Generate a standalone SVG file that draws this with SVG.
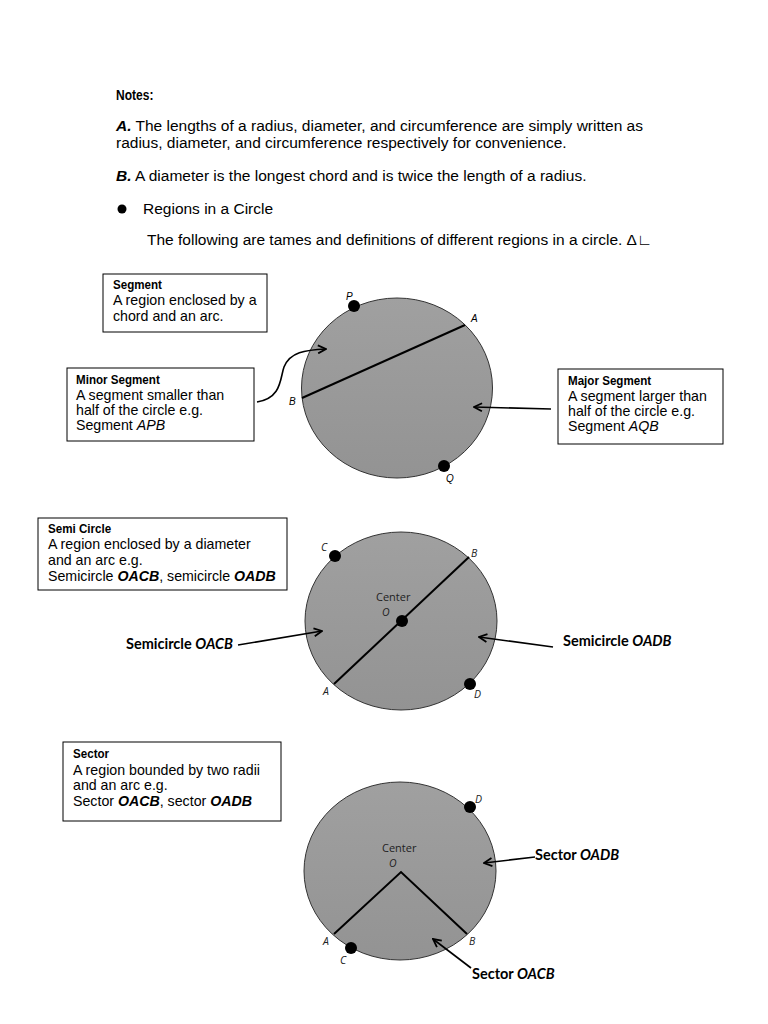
<svg xmlns="http://www.w3.org/2000/svg" width="768" height="1024" viewBox="0 0 768 1024">
<defs>
<linearGradient id="g" x1="0" y1="0" x2="0" y2="1">
<stop offset="0" stop-color="#a0a0a0"/>
<stop offset="1" stop-color="#939393"/>
</linearGradient>
<marker id="ah" viewBox="0 0 10 10" refX="9" refY="5" markerWidth="10" markerHeight="10" markerUnits="userSpaceOnUse" orient="auto">
<path d="M1,1 L9,5 L1,9" fill="none" stroke="#000" stroke-width="1.8"/>
</marker>
</defs>
<style>
text{font-family:"Liberation Sans",Arial,sans-serif;fill:#000}
.body{font-size:15.5px}
.box{fill:#fff;stroke:#000;stroke-width:1}
.ttl{font-family:"Liberation Sans",Arial,sans-serif;font-weight:bold;font-size:13.5px}
.bt{font-size:14.2px}
.circ{fill:url(#g);stroke:#333;stroke-width:1}
.ln{stroke:#000;stroke-width:2;fill:none}
.dot{fill:#000}
.pl{font-size:10px;font-style:italic}
.cl{font-family:"Open Sans","DejaVu Sans",sans-serif;font-size:11px;fill:#222}
.cli{font-family:"Open Sans","DejaVu Sans",sans-serif;font-size:10.5px;font-style:italic;fill:#222}
.lab{font-family:Lato,"Open Sans",sans-serif;font-weight:bold;font-size:14.5px}
.arr{stroke:#000;stroke-width:1.6;fill:none;marker-end:url(#ah)}
</style>
<g id="notes">
<text transform="translate(116,100) scale(0.86,1)" class="ttl" style="font-size:14px">Notes:</text>
<text x="116" y="131" class="body"><tspan font-weight="bold" font-style="italic">A.</tspan> The lengths of a radius, diameter, and circumference are simply written as</text>
<text x="116" y="148" class="body">radius, diameter, and circumference respectively for convenience.</text>
<text x="116" y="181" class="body"><tspan font-weight="bold" font-style="italic">B.</tspan> A diameter is the longest chord and is twice the length of a radius.</text>
<circle cx="122" cy="209" r="4.5" class="dot"/>
<text x="143" y="214" class="body">Regions in a Circle</text>
<text x="147" y="245" class="body">The following are tames and definitions of different regions in a circle. Δ∟</text>
</g>
<g id="segment-box">
<rect x="103" y="274" width="164" height="58" class="box"/>
<text transform="translate(113,289) scale(0.86,1)" class="ttl">Segment</text>
<text x="113" y="305" class="bt">A region enclosed by a</text>
<text x="113" y="321" class="bt">chord and an arc.</text>
</g>
<g id="minor-box">
<rect x="67" y="368" width="187" height="73" class="box"/>
<text transform="translate(76,384) scale(0.86,1)" class="ttl">Minor Segment</text>
<text x="76" y="400" class="bt">A segment smaller than</text>
<text x="76" y="415" class="bt">half of the circle e.g.</text>
<text x="76" y="430" class="bt">Segment <tspan font-style="italic">APB</tspan></text>
</g>
<g id="major-box">
<rect x="558" y="369" width="165" height="75" class="box"/>
<text transform="translate(568,385) scale(0.86,1)" class="ttl">Major Segment</text>
<text x="568" y="401" class="bt">A segment larger than</text>
<text x="568" y="416" class="bt">half of the circle e.g.</text>
<text x="568" y="431" class="bt">Segment <tspan font-style="italic">AQB</tspan></text>
</g>
<g id="circle1">
<ellipse cx="397" cy="388" rx="95.5" ry="90" class="circ"/>
<line x1="302" y1="398" x2="465" y2="325" class="ln"/>
<circle cx="354" cy="306" r="6" class="dot"/>
<circle cx="444" cy="466" r="6" class="dot"/>
<text x="346" y="300" class="pl">P</text>
<text x="471" y="322" class="pl">A</text>
<text x="289" y="405" class="pl">B</text>
<text x="446" y="482" class="pl">Q</text>
</g>
<g id="semi-box">
<rect x="38" y="518" width="249" height="72" class="box"/>
<text transform="translate(48,533) scale(0.86,1)" class="ttl">Semi Circle</text>
<text x="48" y="549" class="bt">A region enclosed by a diameter</text>
<text x="48" y="565" class="bt">and an arc e.g.</text>
<text x="48" y="581" class="bt">Semicircle <tspan font-weight="bold" font-style="italic">OACB</tspan>, semicircle <tspan font-weight="bold" font-style="italic">OADB</tspan></text>
</g>
<g id="circle2">
<ellipse cx="401" cy="621" rx="96" ry="89" class="circ"/>
<line x1="334" y1="684" x2="469" y2="557" class="ln"/>
<circle cx="402" cy="621" r="6" class="dot"/>
<circle cx="335" cy="556" r="6" class="dot"/>
<circle cx="470" cy="684" r="6" class="dot"/>
<text x="376" y="601" class="cl">Center</text>
<text x="382" y="616" class="cli">O</text>
<text x="321" y="551" class="cli">C</text>
<text x="471" y="557" class="cli">B</text>
<text x="323" y="695" class="cli">A</text>
<text x="474" y="698" class="cli">D</text>
</g>
<g id="sector-box">
<rect x="63" y="742" width="218" height="79" class="box"/>
<text transform="translate(73,758) scale(0.86,1)" class="ttl">Sector</text>
<text x="73" y="775" class="bt">A region bounded by two radii</text>
<text x="73" y="790" class="bt">and an arc e.g.</text>
<text x="73" y="806" class="bt">Sector <tspan font-weight="bold" font-style="italic">OACB</tspan>, sector <tspan font-weight="bold" font-style="italic">OADB</tspan></text>
</g>
<g id="circle3">
<ellipse cx="400" cy="871" rx="96" ry="89" class="circ"/>
<polyline points="334,934 401,872 467,934" class="ln"/>
<circle cx="470" cy="807" r="6" class="dot"/>
<circle cx="351" cy="948" r="6" class="dot"/>
<text x="382" y="852" class="cl">Center</text>
<text x="389" y="867" class="cli">O</text>
<text x="323" y="945" class="cli">A</text>
<text x="469" y="945" class="cli">B</text>
<text x="340" y="964" class="cli">C</text>
<text x="475" y="803" class="cli">D</text>
</g>
<g id="labels">
<text x="126" y="649" class="lab">Semicircle <tspan font-style="italic">OACB</tspan></text>
<text x="563" y="646" class="lab">Semicircle <tspan font-style="italic">OADB</tspan></text>
<text x="535" y="860" class="lab">Sector <tspan font-style="italic">OADB</tspan></text>
<text x="472" y="979" class="lab">Sector <tspan font-style="italic">OACB</tspan></text>
</g>
<g id="connectors">
<path d="M257,402 C282,398 280,378 284,367 C290,352 305,350 326,349" class="arr"/>
<line x1="551" y1="409" x2="474" y2="407" class="arr"/>
<line x1="238" y1="645" x2="322" y2="631" class="arr"/>
<line x1="553" y1="647" x2="479" y2="637" class="arr"/>
<line x1="535" y1="857" x2="484" y2="863" class="arr"/>
<line x1="471" y1="968" x2="433" y2="939" class="arr"/>
</g>
</svg>
